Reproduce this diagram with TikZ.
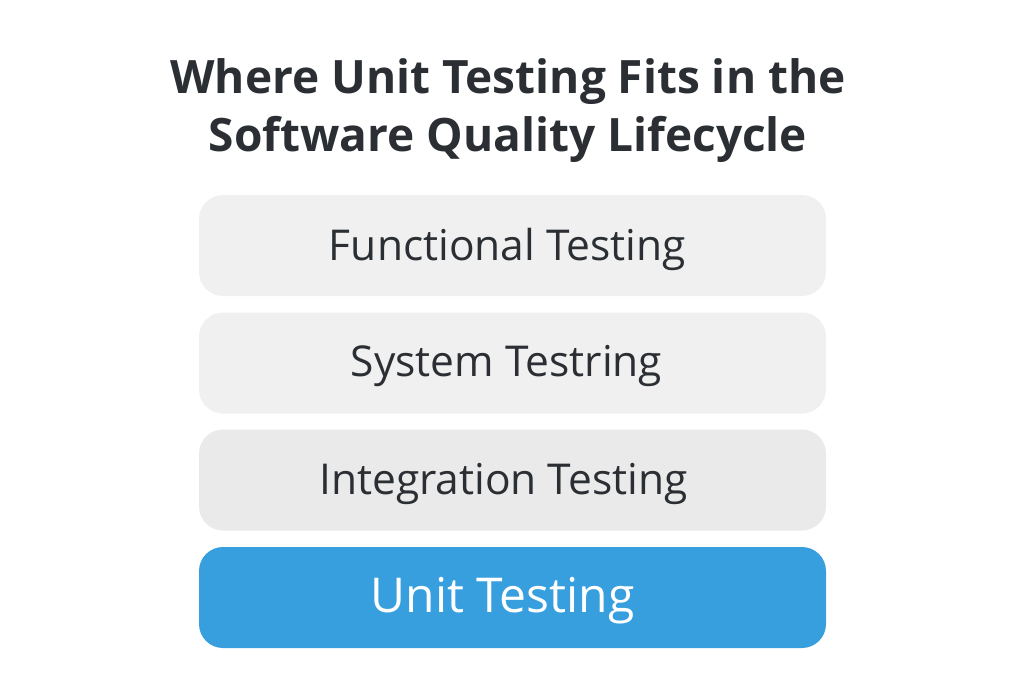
\documentclass[tikz,border=0pt]{standalone}
\usepackage{fontspec}
\setmainfont{Open Sans}
\definecolor{txt}{HTML}{2B2F33}
\definecolor{boxgray}{HTML}{F0F0F0}
\definecolor{boxgray2}{HTML}{EAEAEA}
\definecolor{blue}{HTML}{389FDF}
\begin{document}
\begin{tikzpicture}[x=1pt,y=-1pt,
  layer/.style={rounded corners=24pt, minimum width=627pt, minimum height=101pt, inner sep=0pt},
  lbl/.style={inner sep=0pt, text=txt, font=\fontsize{42.5}{48}\selectfont},
  ttl/.style={text=txt, font=\fontsize{46}{58}\selectfont\bfseries, align=center}]
\useasboundingbox[fill=white] (0,0) rectangle (1024,683);
\node[ttl] (title) at (508,111) {Where Unit Testing Fits in the\\Software Quality Lifecycle};
\node[layer, fill=boxgray] (func) at (512.5,245.5) {};
\node[layer, fill=boxgray] (sys) at (512.5,363) {};
\node[layer, fill=boxgray2] (integ) at (512.5,480) {};
\node[layer, fill=blue] (unit) at (512.5,597.5) {};
\node[lbl] (funct) at ([xshift=-5pt,yshift=-3.5pt]func.center) {Functional Testing};
\node[lbl] (syst) at ([xshift=-6pt,yshift=-3.5pt]sys.center) {System Testring};
\node[lbl] (integt) at ([xshift=-9pt,yshift=-3.5pt]integ.center) {Integration Testing};
\node[lbl, text=white, font=\fontsize{48}{54}\selectfont] (unitt) at ([xshift=-10pt,yshift=-3pt]unit.center) {Unit Testing};
\end{tikzpicture}
\end{document}
